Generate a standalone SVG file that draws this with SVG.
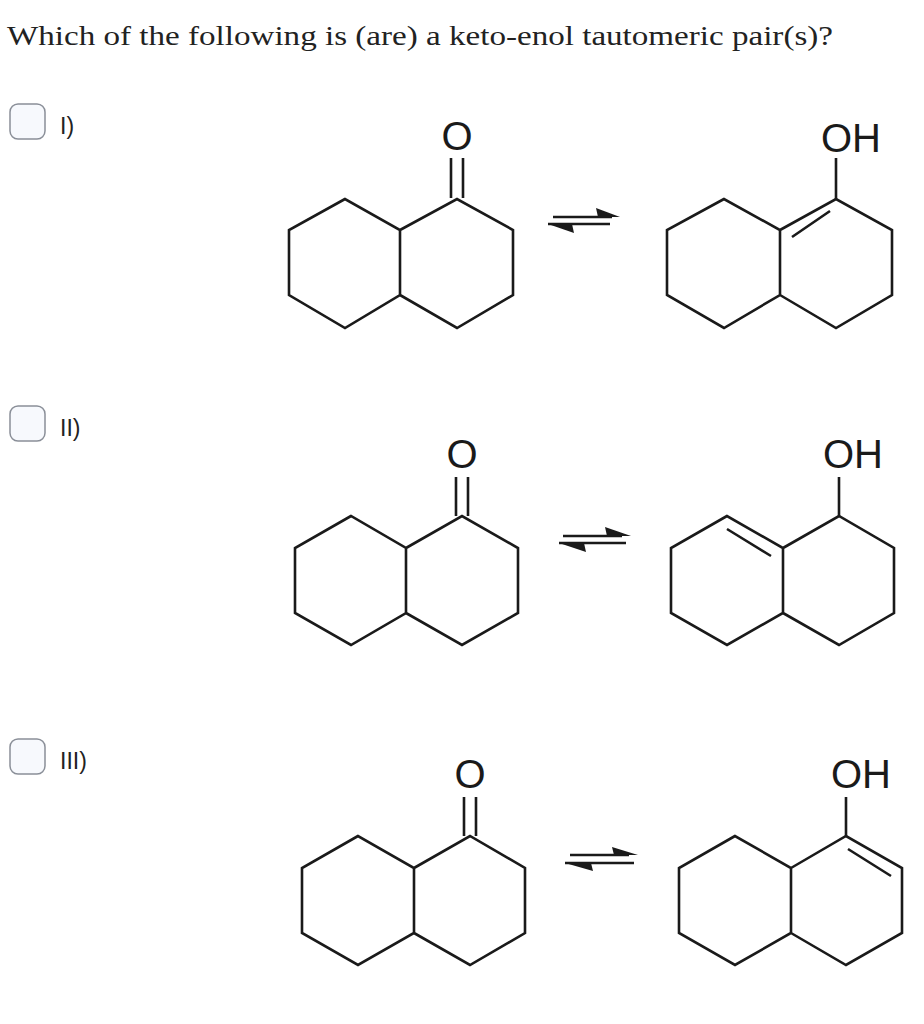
<svg xmlns="http://www.w3.org/2000/svg" width="924" height="1024" viewBox="0 0 924 1024">
<style>
.b{fill:none;stroke:#1a1a1a;stroke-width:2.6;stroke-linejoin:miter;stroke-linecap:butt}
.at{font-family:"Liberation Sans",Arial,sans-serif;font-size:40px;fill:#1a1a1a}
.lab{font-family:"Liberation Sans",Arial,sans-serif;font-size:23px;fill:#222}
.cb{fill:#f7f9fd;stroke:#8a8f98;stroke-width:1.5}
.ah{fill:#1a1a1a;stroke:none}
</style>
<rect width="924" height="1024" fill="#fff"/>
<text x="7" y="45" font-family="'Liberation Serif','DejaVu Serif',serif" font-size="28" fill="#222" textLength="826" lengthAdjust="spacingAndGlyphs">Which of the following is (are) a keto-enol tautomeric pair(s)?</text>

<g id="opt1"><rect class="cb" x="10" y="104" width="35" height="35" rx="8"/><text class="lab" x="60" y="134">I)</text></g>
<g id="opt2"><rect class="cb" x="10" y="406" width="35" height="35" rx="8"/><text class="lab" x="60" y="436">II)</text></g>
<g id="opt3"><rect class="cb" x="10" y="739" width="35" height="35" rx="8"/><text class="lab" x="60" y="769">III)</text></g>

<!-- I keto -->
<g id="keto1">
<path class="b" d="M345,199 L289,230 L289,295 L345,328 L400,295 L400,230 Z M400,230 L457,199 L513,230 L513,295 L457,328 L400,295"/>
<path class="b" d="M451,198 V158 M463,198 V158"/>
<text class="at" x="457" y="150" text-anchor="middle">O</text>
</g>
<g id="enol1">
<path class="b" d="M724,199 L667,230 L667,295 L724,328 L780,295 L780,230 Z M780,230 L836,199 L892,230 L892,295 L836,328 L780,295"/>
<path class="b" d="M792,237 L830,211 M836,199 V158"/>
<text class="at" x="851" y="152" text-anchor="middle">OH</text>
</g>

<!-- II -->
<g id="keto2">
<path class="b" d="M351,516 L295,548 L295,613 L351,645 L406,613 L406,548 Z M406,548 L462,516 L518,548 L518,613 L462,645 L406,613"/>
<path class="b" d="M456,516 V477 M468,516 V477"/>
<text class="at" x="462" y="468" text-anchor="middle">O</text>
</g>
<g id="enol2">
<path class="b" d="M727,516 L671,548 L671,613 L727,645 L783,613 L783,548 Z M783,548 L839,516 L894,548 L894,613 L839,645 L783,613"/>
<path class="b" d="M727,529 L771,556 M839,516 V477"/>
<text class="at" x="853" y="468" text-anchor="middle">OH</text>
</g>

<!-- III -->
<g id="keto3">
<path class="b" d="M358,836 L302,868 L302,933 L358,965 L414,933 L414,868 Z M414,868 L470,836 L525,868 L525,933 L470,965 L414,933"/>
<path class="b" d="M464,836 V797 M476,836 V797"/>
<text class="at" x="470" y="788" text-anchor="middle">O</text>
</g>
<g id="enol3">
<path class="b" d="M735,836 L679,868 L679,933 L735,965 L791,933 L791,868 Z M791,868 L846,836 L902,868 L902,933 L846,965 L791,933"/>
<path class="b" d="M848,849 L891,876 M846,836 V797"/>
<text class="at" x="861" y="788" text-anchor="middle">OH</text>
</g>

<g id="connectors">
<path class="b" d="M553,217 H612 M548,224 H610" stroke-width="2.4"/>
<polygon class="ah" points="620,217 596,208 598,217"/>
<polygon class="ah" points="548,224 574,233 572,224"/>

<path class="b" d="M563,536 H622 M559,543 H626" stroke-width="2.4"/>
<polygon class="ah" points="631,536 605,527 607,536"/>
<polygon class="ah" points="559,543 586,552 584,543"/>

<path class="b" d="M570,855 H629 M565,863 H634" stroke-width="2.4"/>
<polygon class="ah" points="638,855 612,847 614,855"/>
<polygon class="ah" points="565,863 593,871 591,863"/>
</g>
</svg>
